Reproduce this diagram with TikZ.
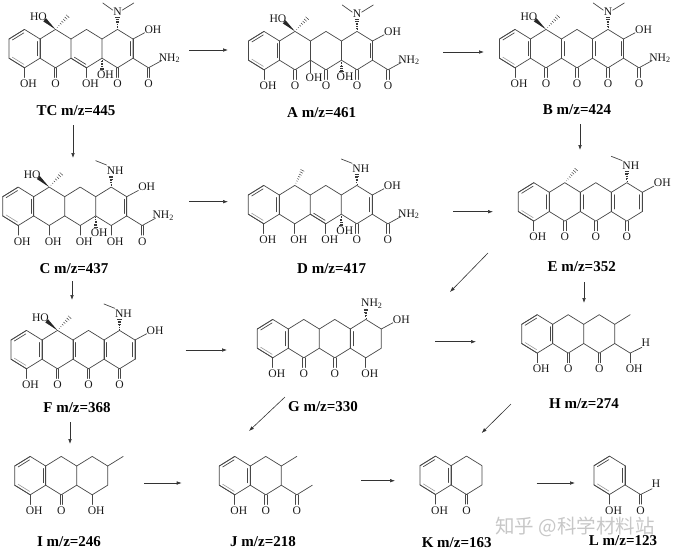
\documentclass[tikz,border=0pt]{standalone}
\usepackage{fontspec}
\setmainfont{Liberation Serif}
\newfontfamily\cjk{Noto Sans CJK SC}
\usetikzlibrary{calc,arrows.meta}
\newcount\atomn
\tikzset{
  bd/.style={line width=.7pt,draw=black!72,line cap=round,line join=round},
  bdfaint/.style={line width=.6pt,draw=black!40,line cap=round},
  hsh/.style={line width=.45pt,draw=black!78},
  atm/.style={inner sep=0pt,font=\fontsize{11.6}{11.6}\selectfont,text=black!90},
  capt/.style={inner sep=0pt,font=\fontsize{15}{15}\selectfont\bfseries},
  rx/.style={line width=.6pt,draw=black!80,-{Latex[length=5pt,width=3.6pt]}},
  mark text/.style={inner sep=0pt,font=\fontsize{19.5}{19.5}\cjk,text=black!22}
}
\newcommand\bnd[2]{\draw[bd] (#1)--(#2);}
\newcommand\db[2]{\draw[bd] (#1)--(#2);
  \draw[bd] ($(#1)!.13!(#2)!2.6pt!-90:(#2)$)--($(#2)!.13!(#1)!2.6pt!90:(#1)$);}
\newcommand\dbfaint[2]{\draw[bd] (#1)--(#2);
  \draw[bdfaint] ($(#1)!.13!(#2)!2.6pt!-90:(#2)$)--($(#2)!.13!(#1)!2.6pt!90:(#1)$);}
\newcommand\hw[2]{\foreach \tval in {.14,.28,.42,.56,.70,.84,.98}{%
  \pgfmathsetmacro\wval{\tval*2.1}%
  \draw[hsh] ($(#1)!\tval!(#2)!\wval pt!90:(#2)$)--($(#1)!\tval!(#2)!\wval pt!-90:(#2)$);}}
\newcommand\sw[2]{\fill[black!85] (#1)--($(#2)!2.1pt!90:(#1)$)--($(#2)!2.1pt!-90:(#1)$)--cycle;}
\newcommand\atom[4][0]{\global\advance\atomn by 1
  \node[atm,xshift=#1pt] (at\the\atomn) at (#2,#3) {#4};}
\newcommand\mol[3]{\begin{scope}[shift={(#1,#2)},x=15.5pt,y=-9.6pt]#3\end{scope}}
% ring pieces
\newcommand\ringA{\draw[bd] (0,2)--(0,0)--(1,-1)--(2,0)--(2,2)--(1,3)--cycle;
  \db{0,0}{1,-1}\db{2,0}{2,2}\dbfaint{1,3}{0,2}}
\newcommand\ringB{\draw[bd] (2,0)--(3,-1)--(4,0)--(4,2)--(3,3)--(2,2);}
\newcommand\ringC{\draw[bd] (4,0)--(5,-1)--(6,0)--(6,2)--(5,3)--(4,2);}
\newcommand\ringD{\draw[bd] (6,0)--(7,-1)--(8,0)--(8,2)--(7,3)--(6,2);}
% substituents
\newcommand\oh[1]{\bnd{#1,3}{#1,4}\atom[4]{#1}{4.65}{OH}}
\newcommand\co[1]{\draw[bd] ([xshift=-1.3pt]#1,3)--([xshift=-1.3pt]#1,4);
  \draw[bd] ([xshift=1.3pt]#1,3)--([xshift=1.3pt]#1,4);\atom{#1}{4.65}{O}}
\newcommand\rightoh{\bnd{8,0}{8.75,-.65}\atom[4.5]{9}{-1}{OH}}
\newcommand\amide{\bnd{8,2}{9,3}\bnd{9,3}{9.85,2.25}\co{9}\atom[5.5]{10}{2}{NH\textsubscript{2}}}
\newcommand\homethyl{\sw{3,-1}{2.3,-2}\atom{1.9}{-2.3}{HO}\hw{3,-1}{3.8,-2.4}}
\newcommand\nme{\hw{7,-1}{7,-2.25}\atom{7}{-2.8}{N}\bnd{6.7,-3}{6.05,-3.75}\bnd{7.3,-3}{8.05,-3.75}}
\newcommand\nhme{\hw{7,-1}{7,-2.2}\atom[4]{7}{-2.75}{NH}\bnd{6.7,-3.3}{6,-3.75}}
\newcommand\hashoh{\hw{6,2}{6,3.2}\atom[3.5]{6}{3.75}{OH}}
\newcommand\arw[3]{\coordinate (#1s) at (#2);\coordinate (#1e) at (#3);\draw[rx] (#1s)--(#1e);}
\begin{document}
\begin{tikzpicture}[x=1pt,y=-1pt]
\useasboundingbox (0,0) rectangle (674,555);
% TC
\mol{9}{39}{\ringA\ringB\ringC\ringD\rightoh\amide\homethyl\nme\hashoh
  \db{5,3}{4,2}\db{8,0}{8,2}\oh{1}\co{3}\oh{5}\co{7}}
% A
\mol{248.5}{41}{\ringA\ringB\ringC\ringD\rightoh\amide\homethyl\nme\hashoh
  \db{8,0}{8,2}\oh{1}\co{3}\co{5}\co{7}\bnd{4,2}{4,3.3}\atom[3.5]{4}{3.85}{OH}}
% B
\mol{499.5}{39}{\ringA\ringB\ringC\ringD\rightoh\amide\homethyl\nme
  \db{4,2}{4,0}\db{6,2}{6,0}\db{8,0}{8,2}\oh{1}\co{3}\co{5}\co{7}}
% C
\mol{2.7}{196.7}{\ringA\ringB\ringC\ringD\rightoh\amide\homethyl\nhme\hashoh
  \db{8,0}{8,2}\oh{1}\oh{3}\oh{5}\oh{7}}
% D
\mol{248.3}{195}{\ringA\ringB\ringC\ringD\rightoh\amide\nhme\hashoh
  \hw{3,-1}{3.5,-2.6}\db{5,3}{4,2}\db{8,0}{8,2}\oh{1}\oh{3}\oh{5}\co{7}}
% E
\mol{518.3}{192.3}{\ringA\ringB\ringC\ringD\rightoh\nhme\hw{3,-1}{3.75,-2.4}
  \db{4,2}{4,0}\db{6,2}{6,0}\db{8,0}{8,2}\oh{1}\co{3}\co{5}\co{7}}
% F
\mol{11}{340}{\ringA\ringB\ringC\ringD\rightoh\nhme\homethyl
  \db{4,2}{4,0}\db{6,2}{6,0}\db{8,0}{8,2}\oh{1}\co{3}\co{5}\co{7}}
% G
\mol{257.3}{329}{\ringA\ringB\ringC\ringD\rightoh
  \hw{7,-1}{7,-2.1}\atom[6]{7}{-2.6}{NH\textsubscript{2}}
  \db{6,2}{6,0}\oh{1}\co{3}\co{5}\oh{7}}
% H
\mol{521.7}{324.3}{\ringA\ringB\ringC\bnd{6,0}{7,-1}\bnd{6,2}{7,3}\bnd{7,3}{7.75,2.4}
  \atom{8}{1.9}{H}\oh{7}\oh{1}\co{3}\co{5}}
% I
\mol{14.7}{466}{\ringA\ringB\ringC\bnd{6,0}{7,-1}\oh{1}\co{3}\oh{5}}
% J
\mol{219.3}{466}{\ringA\ringB\bnd{4,0}{5,-1}\bnd{4,2}{5,3}\bnd{5,3}{6,2}\oh{1}\co{3}\co{5}}
% K
\mol{420}{465.7}{\ringA\ringB\oh{1}\co{3}}
% L
\mol{594}{465.7}{\ringA\bnd{2,2}{3,3}\bnd{3,3}{3.75,2.4}\atom{4}{1.9}{H}\oh{1}\co{3}}
% captions
\node[capt] (cTC) at (76,111) {TC m/z=445};
\node[capt] (cA) at (321.7,113) {A m/z=461};
\node[capt] (cB) at (577,110) {B m/z=424};
\node[capt] (cC) at (74,269) {C m/z=437};
\node[capt] (cD) at (331.7,269) {D m/z=417};
\node[capt] (cE) at (581.7,266.7) {E m/z=352};
\node[capt] (cF) at (77,408) {F m/z=368};
\node[capt] (cG) at (323,406.7) {G m/z=330};
\node[capt] (cH) at (584,404) {H m/z=274};
\node[capt] (cI) at (69,541.7) {I m/z=246};
\node[capt] (cJ) at (263,541.7) {J m/z=218};
\node[capt] (cK) at (456.7,543) {K m/z=163};
\node[capt] (cL) at (623,541) {L m/z=123};
% arrows
\arw{a1}{189,50}{228,50}
\arw{a2}{443,52}{484,52}
\arw{a3}{73,125}{73,158}
\arw{a4}{580,124}{580,150}
\arw{a5}{189,201.7}{228,201.7}
\arw{a6}{453,211.7}{493,211.7}
\arw{a7}{488,253}{450,292}
\arw{a8}{72,281}{72,300}
\arw{a9}{185.7,350}{227,350}
\arw{a10}{435,341.7}{476,341.7}
\arw{a11}{584,282}{584,303}
\arw{a12}{285,397}{249,431}
\arw{a13}{511,404}{481.7,433}
\arw{a14}{70,422}{70,444}
\arw{a15}{144,483}{181.7,483}
\arw{a16}{361,480.7}{395,480.7}
\arw{a17}{536.7,483}{575,483}
% watermark
\node[mark text,anchor=west] (wm) at (495,527) {知乎 @科学材料站};
\end{tikzpicture}
\end{document}
